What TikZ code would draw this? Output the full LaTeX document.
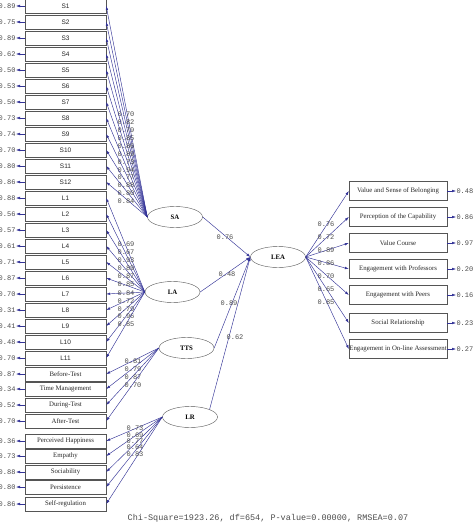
\documentclass[tikz,border=0pt]{standalone}
\usepackage{fontspec}
\setmainfont{Liberation Serif}
\setsansfont{Liberation Sans}
\setmonofont{Liberation Mono}
\usetikzlibrary{shapes.geometric,arrows.meta}

\begin{document}
\begin{tikzpicture}[x=1pt,y=-1pt,
  obs/.style={draw={rgb,255:red,85;green,85;blue,85}, fill=white, minimum width=81pt, minimum height=13.5pt, inner sep=0pt, text={rgb,255:red,40;green,40;blue,40}, font=\fontsize{6.8}{7}\selectfont},
  obss/.style={obs, font=\sffamily\fontsize{6.5}{7}\selectfont},
  outc/.style={obs, minimum width=98pt, minimum height=19pt},
  lat/.style={ellipse, draw={rgb,255:red,85;green,85;blue,85}, minimum width=55pt, minimum height=21pt, inner sep=0pt, font=\bfseries\fontsize{6.8}{7}\selectfont},
  num/.style={inner sep=0.3pt, text={rgb,255:red,75;green,75;blue,75}, font=\ttfamily\fontsize{7}{7}\selectfont},
  ld/.style={draw={rgb,255:red,50;green,50;blue,150}, line width=0.45pt, -{Latex[length=4pt,width=2.6pt]}}]
\useasboundingbox (0,0) rectangle (474,524);

% latent variables
\node[lat] (SA) at (175,217) {SA};
\node[lat] (LA) at (172.5,292) {LA};
\node[lat] (TTS) at (186.5,348) {TTS};
\node[lat] (LR) at (190,417) {LR};
\node[lat] (LEA) at (278,257) {LEA};

% SA indicators
\foreach \n/\y/\e/\v/\ly in {S1/6/0.89/0.70/114, S2/22/0.75/0.82/122, S3/38/0.89/0.79/130, S4/54/0.62/0.85/138, S5/70/0.50/0.86/146, S6/86/0.53/0.89/154, S7/102/0.50/0.73/162, S8/118/0.73/0.94/170, S9/134/0.74/0.77/177, S10/150/0.70/0.88/185, S11/166/0.80/0.80/193, S12/182/0.86/0.84/201}{
  \node[obss] (\n) at (65.5,\y) {\n};
  \node[num, anchor=east] (e\n) at (16,\y) {\e};
  \draw[ld] (\n.west) -- (e\n.east);
  \draw[ld] (SA.west) -- (\n.east);
  \node[num] (l\n) at (126,\ly) {\v};
}

% LA indicators
\foreach \n/\y/\e/\v/\ly in {L1/198/0.88/0.69/244, L2/214/0.56/0.67/252, L3/230/0.57/0.93/260, L4/246/0.61/0.89/268, L5/262/0.71/0.87/276, L6/278/0.87/0.85/284, L7/294/0.70/0.84/293, L8/310/0.31/0.72/301, L9/326/0.41/0.79/309, L10/342/0.48/0.96/316, L11/358/0.70/0.85/324}{
  \node[obss] (\n) at (65.5,\y) {\n};
  \node[num, anchor=east] (e\n) at (16,\y) {\e};
  \draw[ld] (\n.west) -- (e\n.east);
  \draw[ld] (LA.west) -- (\n.east);
  \node[num] (l\n) at (126,\ly) {\v};
}

% TTS indicators
\foreach \n/\t/\y/\e/\v/\ly in {BT/Before-Test/374/0.87/0.81/361, TM/Time Management/389/0.34/0.79/369, DT/During-Test/405/0.52/0.87/377, AT/After-Test/421/0.70/0.70/385}{
  \node[obs] (\n) at (65.5,\y) {\t};
  \node[num, anchor=east] (e\n) at (16,\y) {\e};
  \draw[ld] (\n.west) -- (e\n.east);
  \draw[ld] (TTS.west) -- (\n.east);
  \node[num] (l\n) at (133,\ly) {\v};
}

% LR indicators
\foreach \n/\t/\y/\e/\v/\ly in {PH/Perceived Happiness/441/0.36/0.73/428.5, EM/Empathy/456/0.73/0.69/434.8, SO/Sociability/472/0.88/0.77/441.1, PE/Persistence/487/0.80/0.64/447.4, SG/Self-regulation/504/0.86/0.83/453.7}{
  \node[obs] (\n) at (65.5,\y) {\t};
  \node[num, anchor=east] (e\n) at (16,\y) {\e};
  \draw[ld] (\n.west) -- (e\n.east);
  \draw[ld] (LR.west) -- (\n.east);
  \node[num] (l\n) at (135,\ly) {\v};
}

% LEA indicators
\foreach \n/\t/\y/\e/\v/\ly in {VB/Value and Sense of Belonging/191/0.48/0.76/224, PC/Perception of the Capability/217/0.86/0.72/237, VC/Value Course/243/0.97/0.89/250, EP/Engagement with Professors/269/0.20/0.86/263, EQ/Engagement with Peers/295/0.16/0.70/276, SR/Social Relationship/323/0.23/0.65/289, EA/Engagement in On-line Assessment/349/0.27/0.85/302}{
  \node[outc] (\n) at (398,\y) {\t};
  \node[num, anchor=west] (e\n) at (456,\y) {\e};
  \draw[ld] (\n.east) -- (e\n.west);
  \draw[ld] (LEA.east) -- (\n.west);
  \node[num] (l\n) at (326,\ly) {\v};
}

% structural paths
\draw[ld] (SA.east) -- (LEA.west); \node[num] (pSA) at (225,237) {0.76};
\draw[ld] (LA.east) -- (LEA.west); \node[num] (pLA) at (227,274) {0.48};
\draw[ld] (TTS.east) -- (LEA.west); \node[num] (pTTS) at (229,303) {0.89};
\draw[ld] (LR.north east) -- (LEA.west); \node[num] (pLR) at (235,337) {0.62};

\node[num, font=\ttfamily\fontsize{8.5}{10}\selectfont] (fit) at (268,518) {Chi-Square=1923.26, df=654, P-value=0.00000, RMSEA=0.07};

\end{tikzpicture}
\end{document}
